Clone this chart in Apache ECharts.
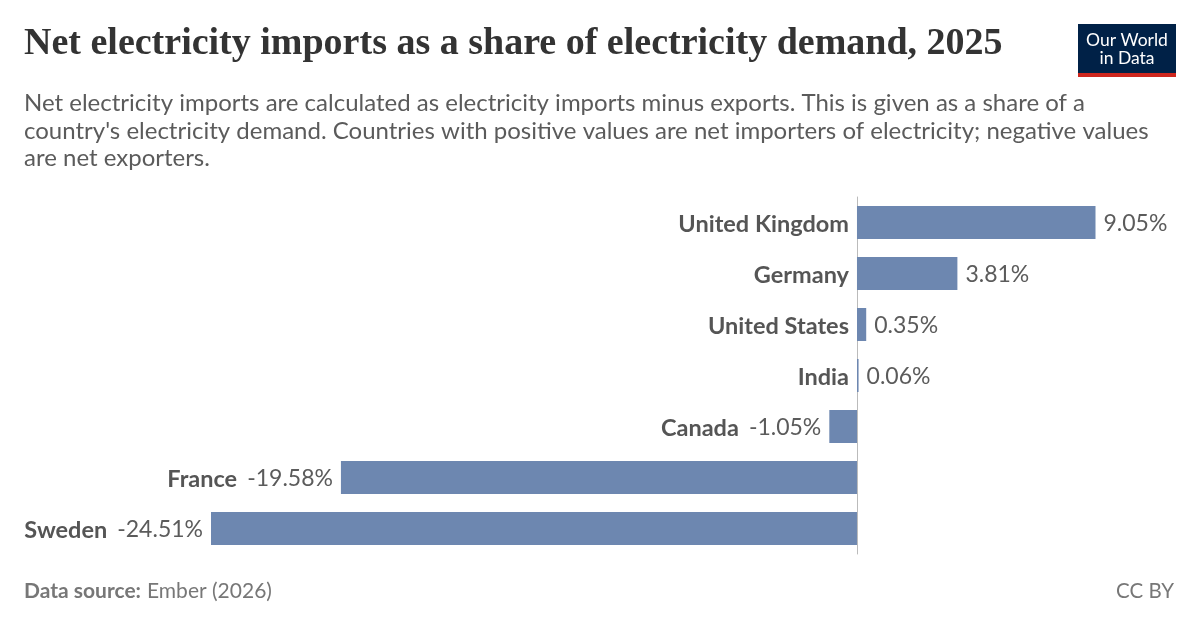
<!DOCTYPE html>
<html><head><meta charset="utf-8">
<script src="https://cdn.jsdelivr.net/npm/echarts@6/dist/echarts.min.js"></script>
<style>html,body{margin:0;padding:0;background:#fff}#c{width:1200px;height:627px}</style>
</head><body><div id="c"></div>
<script>
const categories = ['United Kingdom','Germany','United States','India','Canada','France','Sweden'];
const values = [9.05, 3.81, 0.35, 0.06, -1.05, -19.58, -24.51];

const chart = echarts.init(document.getElementById('c'), null, {renderer:'canvas'});
const fmt = v => v.toFixed(2) + '%';
const font = 'Lato';
chart.setOption({
  animation:false,
  backgroundColor:'#fff',
  grid:{left:211, right:104.5, top:197, height:357, containLabel:false},
  xAxis:{type:'value', min:-24.51, max:9.05, show:false},
  yAxis:{type:'category', data:categories, inverse:true,
    axisLine:{show:true, onZero:true, lineStyle:{color:'#bbbbbb', width:1}},
    axisTick:{show:false}, axisLabel:{show:false}, splitLine:{show:false}},
  series:[
    {type:'bar', barWidth:33, itemStyle:{color:'#6d87b0'},
     data: values.map((v,i)=>({value:v, label: v>=0 ? {
        show:true, position:'right', distance:8, offset:[0,1.5], formatter: fmt(v),
        fontFamily:font, fontSize:23, color:'#5b5b5b'
      } : {
        show:true, position:'left', distance:8, offset:[0,1.5],
        formatter: '{n|' + categories[i] + '}{v|' + fmt(v) + '}',
        rich:{n:{fontFamily:font, fontSize:23.5, fontWeight:'bold', color:'#555555', padding:[0,10,0,0]},
              v:{fontFamily:font, fontSize:23, color:'#5b5b5b'}}
      }}))
    },
    {type:'bar', barWidth:33, barGap:'-100%', itemStyle:{color:'rgba(0,0,0,0)'}, silent:true,
     data: values.map((v,i)=>({value:0, label:{show: v>=0, position:'left', distance:8, offset:[0,1.5],
        formatter: categories[i], fontFamily:font, fontSize:23.5, fontWeight:'bold', color:'#555555'}}))
    }
  ],
  graphic:[
    {type:'text', left:24, top:25, style:{text:'Net electricity imports as a share of electricity demand, 2025',
      fontFamily:'"Liberation Serif", serif', fontWeight:'bold', fontSize:38, fill:'#333333'}},
    {type:'text', left:24, top:90, style:{text:"Net electricity imports are calculated as electricity imports minus exports. This is given as a share of a\ncountry's electricity demand. Countries with positive values are net importers of electricity; negative values\nare net exporters.",
      fontFamily:font, fontSize:24, lineHeight:27.5, fill:'#5b5b5b'}},
    {type:'group', left:1078, top:24, children:[
      {type:'rect', shape:{x:0,y:0,width:98,height:53}, style:{fill:'#002147'}},
      {type:'rect', shape:{x:0,y:49,width:98,height:4}, style:{fill:'#ce261e'}},
      {type:'text', x:49, y:25, style:{text:'Our World\nin Data', fontFamily:font, fontSize:17.5, lineHeight:18, fill:'#ffffff', align:'center', verticalAlign:'middle'}}
    ]},
    {type:'text', left:24, top:581, style:{text:'{b|Data source:}{r|Ember (2026)}',
      rich:{b:{fontFamily:font, fontSize:21, fontWeight:'bold', fill:'#777777', padding:[0,6,0,0]}, r:{fontFamily:font, fontSize:21, fill:'#777777'}}}},
    {type:'text', right:26, top:581, style:{text:'CC BY', fontFamily:font, fontSize:20.5, fill:'#777777'}}
  ]
});
</script></body></html>
